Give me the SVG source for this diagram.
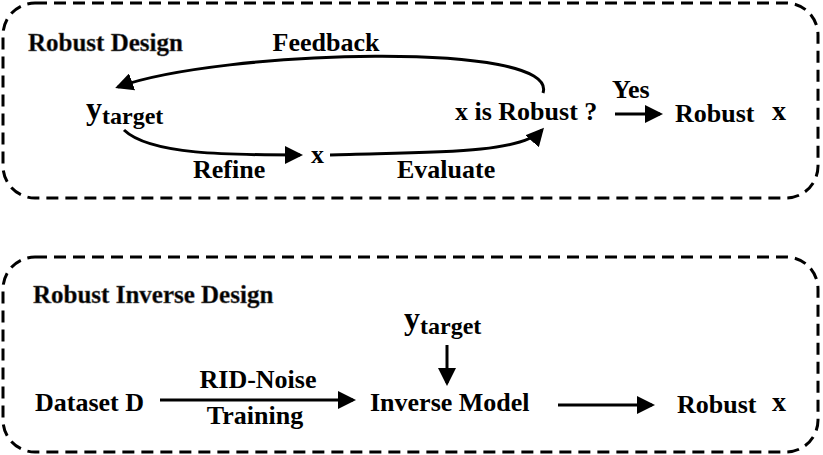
<svg xmlns="http://www.w3.org/2000/svg" width="823" height="455" viewBox="0 0 823 455">
<style>
text{font-family:"Liberation Serif",serif;font-weight:bold;fill:#000}
.t{font-size:26px}
.h{font-size:25px;stroke:#666;stroke-width:0.5px}
.box{fill:none;stroke:#000;stroke-width:3;stroke-dasharray:12 7}
.c{fill:none;stroke:#000;stroke-width:3}
</style>
<defs><marker id="a" markerWidth="6" markerHeight="6" refX="5" refY="3" orient="auto" markerUnits="strokeWidth"><path d="M0,0L6,3L0,6z" fill="#000"/></marker></defs>
<g id="top">
<rect class="box" x="3" y="3" width="815" height="195" rx="32"/>
<text class="h" x="28" y="51">Robust Design</text>
</g>
<g id="bottom">
<rect class="box" x="3" y="257" width="815" height="195" rx="32"/>
<text class="h" x="33" y="303">Robust Inverse Design</text>
</g>
<g id="connectors">
<path class="c" d="M543,93 C560,40 220,50 118,87" marker-end="url(#a)"/>
<path class="c" d="M124,130 C150,155 230,155 300,155" marker-end="url(#a)"/>
<path class="c" d="M330,155 C420,152 520,155 542,130" marker-end="url(#a)"/>
<path class="c" d="M615,114 H660" marker-end="url(#a)"/>
<path class="c" d="M447,345 V383" marker-end="url(#a)"/>
<path class="c" d="M160,400 H353" marker-end="url(#a)"/>
<path class="c" d="M558,405 H652" marker-end="url(#a)"/>
</g>
<g id="labels">
<text class="t" x="326" y="51" text-anchor="middle">Feedback</text>
<text x="86" y="119" font-size="32">y<tspan font-size="24" dy="5">target</tspan></text>
<text class="t" x="455" y="120">x is Robust ?</text>
<text class="t" x="612" y="98">Yes</text>
<text class="t" x="675" y="122">Robust</text>
<text x="772" y="120" font-size="28">x</text>
<text class="t" x="193" y="178">Refine</text>
<text x="311" y="163" font-size="26">x</text>
<text class="t" x="397" y="178">Evaluate</text>
<text x="404" y="329" font-size="32">y<tspan font-size="24" dy="5">target</tspan></text>
<text class="t" x="35" y="411">Dataset D</text>
<text class="t" x="258" y="388" text-anchor="middle">RID-Noise</text>
<text class="t" x="255" y="424" text-anchor="middle">Training</text>
<text class="t" x="370" y="411">Inverse Model</text>
<text class="t" x="677" y="413">Robust</text>
<text x="772" y="411" font-size="28">x</text>
</g>
</svg>
